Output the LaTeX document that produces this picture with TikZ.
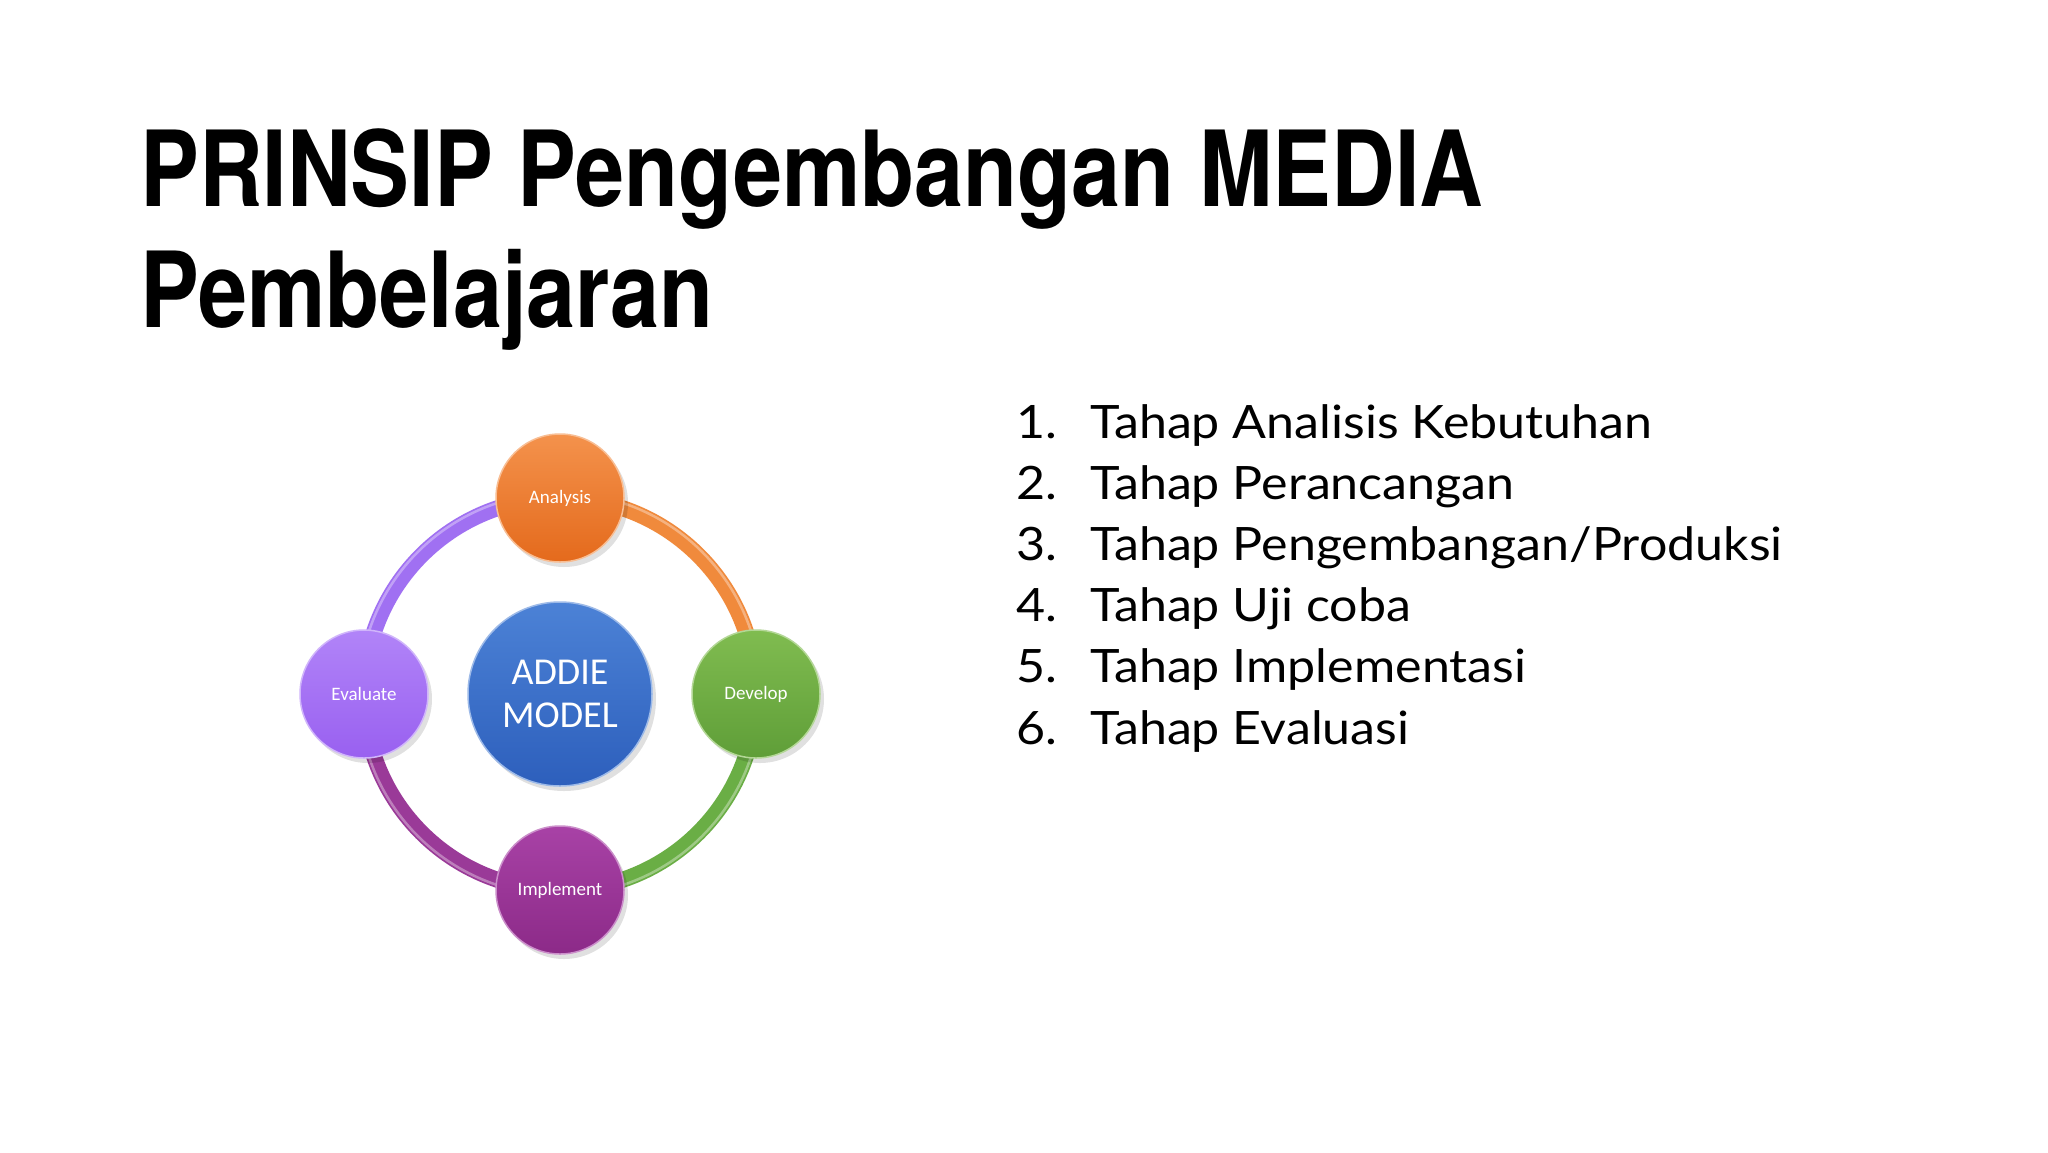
\documentclass[tikz,border=0pt]{standalone}
\usepackage{fontspec}
\usetikzlibrary{calc}
\setmainfont{Carlito}
\newfontfamily\titlefont[FakeStretch=0.84]{TeX Gyre Heros}
\newfontfamily\listfont[FakeStretch=1.09]{Lato}
\newfontfamily\cirfont{Carlito}
\definecolor{orA}{HTML}{F4924C}\definecolor{orB}{HTML}{E46A1C}
\definecolor{grA}{HTML}{80BC50}\definecolor{grB}{HTML}{5F9E38}
\definecolor{puA}{HTML}{A842A6}\definecolor{puB}{HTML}{8C2A88}
\definecolor{laA}{HTML}{B184F8}\definecolor{laB}{HTML}{9960F0}
\definecolor{blA}{HTML}{4C82D6}\definecolor{blB}{HTML}{2D5FBC}
\definecolor{ringO}{HTML}{F08A3C}\definecolor{ringG}{HTML}{6AAE45}
\definecolor{ringP}{HTML}{9A3A98}\definecolor{ringL}{HTML}{A070F2}
\tikzset{
  titletxt/.style={anchor=base west, inner sep=0pt, font=\titlefont\bfseries\fontsize{105}{110}\selectfont},
  listtxt/.style={anchor=base west, inner sep=0pt, font=\listfont\fontsize{46}{50}\selectfont},
  ball/.style={circle, minimum size=128pt, inner sep=0pt, text=white, font=\cirfont\fontsize{19}{22}\selectfont},
  bigball/.style={circle, minimum size=184pt, inner sep=0pt, text=white, align=center, font=\cirfont\fontsize{38}{43}\selectfont},
  ringseg/.style={line width=16pt},
  ringhl/.style={line width=2.5pt, white, opacity=0.35},
  shadowc/.style={fill=black, opacity=0.12},
}
\begin{document}
\begin{tikzpicture}[x=1pt,y=-1pt]
\useasboundingbox[fill=white] (0,0) rectangle (2048,1152);
% title
\node[titletxt] (t1) at (140,206) {PRINSIP Pengembangan MEDIA};
\node[titletxt] (t2) at (140,327) {Pembelajaran};
% list
\foreach \i/\txt [count=\k] in {1/{Tahap Analisis Kebutuhan},2/{Tahap Perancangan},3/{Tahap Pengembangan/Produksi},4/{Tahap Uji coba},5/{Tahap Implementasi},6/{Tahap Evaluasi}}{
  \node[listtxt] (n\i) at (1016,{438+61.2*(\k-1)}) {\i.};
  \node[listtxt] (l\i) at (1090,{438+61.2*(\k-1)}) {\txt};
}
% diagram coordinates
\coordinate (cc) at (560,694);
\coordinate (pA) at (560,498);
\coordinate (pD) at (756,694);
\coordinate (pI) at (560,890);
\coordinate (pE) at (364,694);
% ring segments
\draw[ringseg, ringO] (pA) arc[start angle=-90, end angle=0, radius=196];
\draw[ringseg, ringG] (pD) arc[start angle=0, end angle=90, radius=196];
\draw[ringseg, ringP] (pI) arc[start angle=90, end angle=180, radius=196];
\draw[ringseg, ringL] (pE) arc[start angle=180, end angle=270, radius=196];
\draw[ringhl] (pA) ++(0,-5) arc[start angle=-90, end angle=270, radius=201];
% shadows
\foreach \p in {pA,pD,pI,pE}{ \fill[shadowc] ($(\p)+(4,5)$) circle[radius=64]; }
\fill[shadowc] ($(cc)+(4,5)$) circle[radius=92];
% balls
\node[ball, top color=orA, bottom color=orB, draw=orA!60!white, line width=1.5pt] (ana) at (pA) {Analysis};
\node[ball, top color=grA, bottom color=grB, draw=grA!60!white, line width=1.5pt] (dev) at (pD) {Develop};
\node[ball, top color=puA, bottom color=puB, draw=puA!60!white, line width=1.5pt] (imp) at (pI) {Implement};
\node[ball, top color=laA, bottom color=laB, draw=laA!60!white, line width=1.5pt] (eva) at (pE) {Evaluate};
\node[bigball, top color=blA, bottom color=blB, draw=blA!55!white, line width=1.5pt] (addie) at (cc) {ADDIE\\MODEL};
\end{tikzpicture}
\end{document}
